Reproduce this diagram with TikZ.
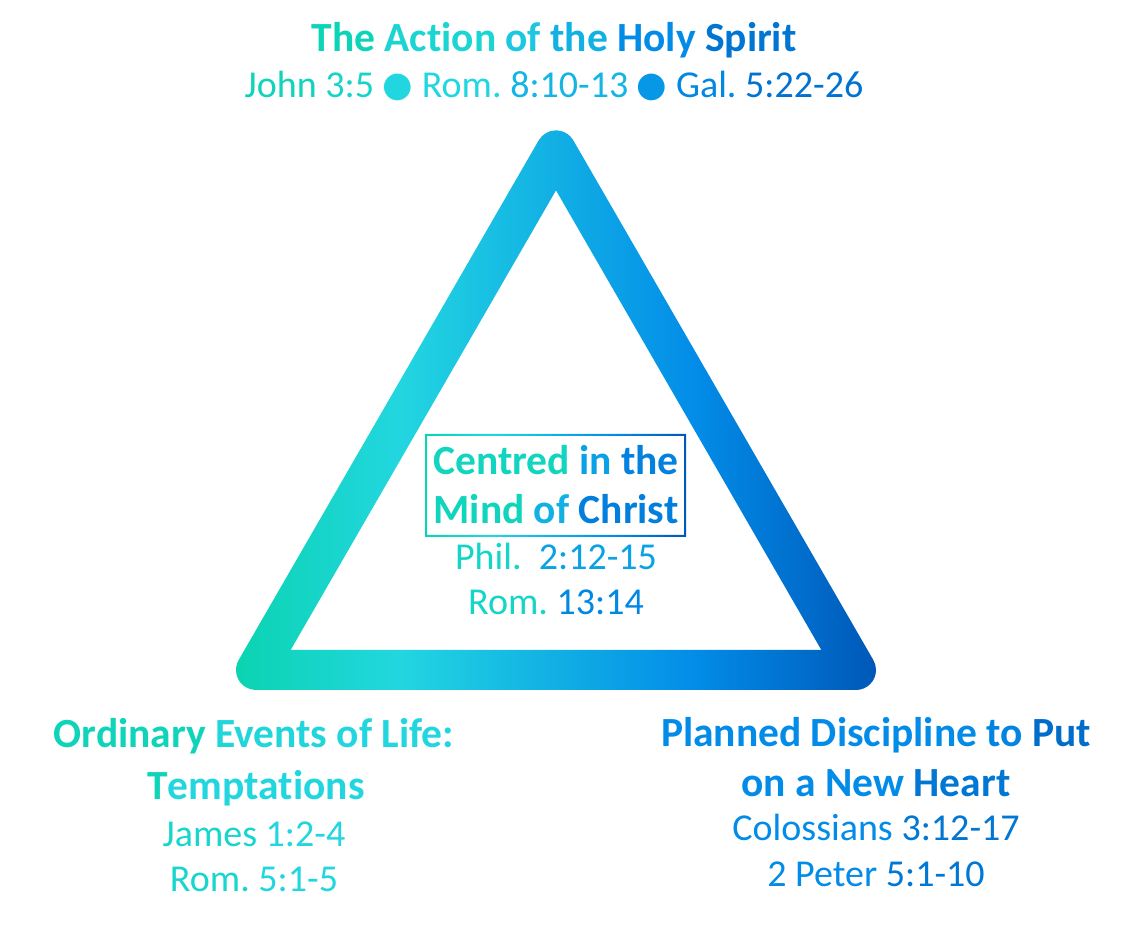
\documentclass[tikz,border=0pt]{standalone}
\usepackage{fontspec}
\setmainfont{Carlito}[Ligatures=NoCommon]
\newfontfamily\dotfont{DejaVu Sans}
\frenchspacing
\definecolor{tgreen}{RGB}{10,212,176}
\definecolor{tcyan}{RGB}{34,214,224}
\definecolor{tblue}{RGB}{2,140,232}
\definecolor{tnavy}{RGB}{0,88,184}
\pgfdeclarehorizontalshading{trigrad}{100bp}{color(0bp)=(tgreen); color(25bp)=(tgreen);
   color(38bp)=(tcyan); color(61bp)=(tblue); color(75bp)=(tnavy); color(100bp)=(tnavy)}
\newcommand\refdot[1]{\raisebox{1.5pt}{\textcolor{#1}{\dotfont\fontsize{35}{40}\selectfont ●}}}

\begin{document}
\begin{tikzpicture}[x=1pt,y=1pt,
   head/.style={font=\bfseries\fontsize{41.5}{49}\selectfont,anchor=base,inner sep=0pt},
   verse/.style={font=\fontsize{38}{45}\selectfont,anchor=base,inner sep=0pt}]
\useasboundingbox (0,0) rectangle (1128,925);
\coordinate (L) at (256,255);
\coordinate (R) at (856,255);
\coordinate (T) at (556,774.6);
\shade[shading=trigrad,even odd rule]
   ([shift={(150:20)}]L) arc[start angle=150,end angle=270,radius=20]
   -- ([shift={(270:20)}]R) arc[start angle=270,end angle=390,radius=20]
   -- ([shift={(30:20)}]T) arc[start angle=30,end angle=150,radius=20] -- cycle
   ([shift={(30:40)}]L) -- ([shift={(150:40)}]R) -- ([shift={(270:40)}]T) -- cycle;
% top
\node[head] (spirit) at (554,873) {\textcolor{tgreen!85!tcyan}{The}
   \textcolor{tcyan!70!tgreen}{Action} \textcolor{tcyan!80!tblue}{of}
   \textcolor{tcyan!50!tblue}{the} \textcolor{tblue}{Holy} \textcolor{tblue!55!tnavy}{Spirit}};
\node[verse] (spiritref) at (554,827) {\textcolor{tgreen!80!tcyan}{John}
   \textcolor{tgreen!50!tcyan}{3:5} \refdot{tcyan} \textcolor{tcyan}{Rom.}
   \textcolor{tcyan!55!tblue}{8:10-13} \refdot{tblue!85!tcyan} \textcolor{tblue!90!tnavy}{Gal.}
   \textcolor{tblue!50!tnavy}{5:22-26}};
% centre
\shade[shading=trigrad,even odd rule] (425,388) rectangle (686,491) (427,390) rectangle (684,489);
\node[head] (centred) at (556,450) {\textcolor{tgreen!70!tcyan}{Centred}
   \textcolor{tcyan!30!tblue}{in} \textcolor{tblue!80!tnavy}{the}};
\node[head] (mind) at (556,401) {\textcolor{tgreen!75!tcyan}{Mind}
   \textcolor{tcyan!50!tblue}{of} \textcolor{tblue!75!tnavy}{Christ}};
\node[verse] (phil) at (556,355) {\textcolor{tgreen!55!tcyan}{Phil.}\ \ \textcolor{tcyan!30!tblue}{2:12-15}};
\node[verse] (rom13) at (556,310) {\textcolor{tgreen!55!tcyan}{Rom.} \textcolor{tblue!90!tnavy}{13:14}};
% bottom left
\node[head] (ordinary) at (254,177) {\textcolor{tgreen!80!tcyan}{Ordinary}
   \textcolor{tcyan!90!tgreen}{Events} \textcolor{tcyan}{of Life:}};
\node[head] (tempt) at (256,125) {\textcolor{tgreen!80!tcyan}{T}\textcolor{tcyan}{emptations}};
\node[verse] (james) at (254,78) {\textcolor{tgreen!40!tcyan}{James} \textcolor{tcyan}{1:2-4}};
\node[verse] (rom5) at (254,33) {\textcolor{tgreen!40!tcyan}{Rom.} \textcolor{tcyan}{5:1-5}};
% bottom right
\node[head] (planned) at (876,178) {\textcolor{tblue}{Planned Discipline}
   \textcolor{tblue!85!tnavy}{to} \textcolor{tblue!40!tnavy}{Put}};
\node[head] (heart) at (876,128) {\textcolor{tblue}{on a New} \textcolor{tblue!60!tnavy}{Heart}};
\node[verse] (colos) at (876,84) {\textcolor{tblue}{Colossians} \textcolor{tblue!60!tnavy}{3:12-17}};
\node[verse] (peter) at (876,38) {\textcolor{tblue}{2 Peter} \textcolor{tblue!60!tnavy}{5:1-10}};
\end{tikzpicture}
\end{document}
